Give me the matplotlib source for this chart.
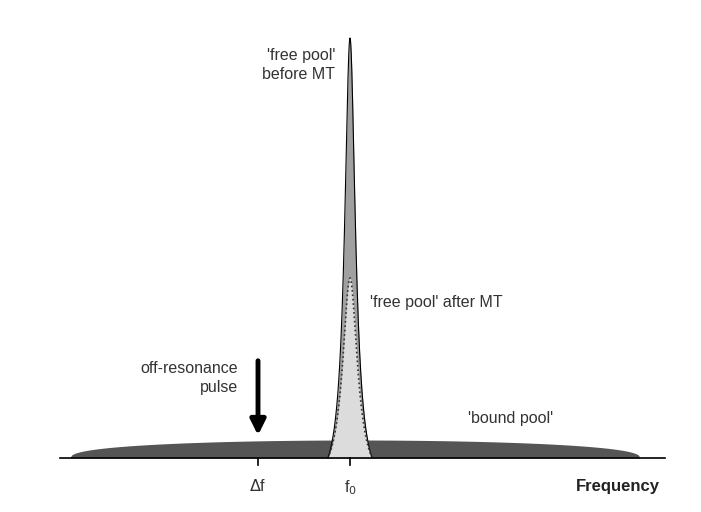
import numpy as np
import matplotlib.pyplot as plt

# schematic in pixel-like units: f0 at 0, heights above baseline
f0 = 0.0
delta_f = -92.0
free_height = 420.0
free_width = 6.5
free_after_height = 180.0
free_after_width = 9.0
bound_height = 18.0
bound_halfwidth = 285.0
bound_center = 5.0

fig = plt.figure(figsize=(7.01, 5.12), dpi=100)
ax = fig.add_axes([0, 0, 1, 1])
ax.set_xlim(-350, 351)
ax.set_ylim(-54, 458)
ax.axis('off')


def peak(x, h, w, edge=22.0):
    lor = 1.0 / (1.0 + (x / w) ** 2)
    lor_edge = 1.0 / (1.0 + (edge / w) ** 2)
    return h * np.clip((lor - lor_edge) / (1 - lor_edge), 0, None)


# bound pool
xb = np.linspace(bound_center - bound_halfwidth, bound_center + bound_halfwidth, 400)
yb = bound_height * np.clip(1 - ((xb - bound_center) / bound_halfwidth) ** 2, 0, 1) ** 0.4
ax.fill_between(xb, 0, yb, color='#555555', lw=0)

xf = np.linspace(-22, 22, 801)
# free pool before MT
yf = peak(xf, free_height, free_width)
ax.fill_between(xf, 0, yf, color='#a0a0a0', lw=0, zorder=2)
ax.plot(xf, yf, color='black', lw=0.8, zorder=4)

# free pool after MT
ya = peak(xf, free_after_height, free_after_width)
ax.fill_between(xf, 0, ya, color='#dcdcdc', lw=0, zorder=3)
ax.plot(xf, ya, color='#333333', lw=1.2, ls=':', zorder=4)

# axis
ax.plot([-290, 315], [0, 0], color='black', lw=1.2, zorder=5)
for x in (delta_f, f0):
    ax.plot([x, x], [0, -7], color='black', lw=1.2, zorder=5)

ax.annotate('', xy=(delta_f, 20), xytext=(delta_f, 100),
            arrowprops=dict(arrowstyle='-|>,head_width=0.45,head_length=0.9',
                            color='black', lw=3.5))

kw = dict(fontsize=11.5, color='#333333', family='Liberation Sans')
ax.text(-15, 393, "'free pool'\nbefore MT", ha='right', va='center', linespacing=1.3, **kw)
ax.text(20, 155, "'free pool' after MT", ha='left', va='center', **kw)
ax.text(-112, 80, "off-resonance\npulse", ha='right', va='center', multialignment='right',
        linespacing=1.3, **kw)
ax.text(118, 40, "'bound pool'", ha='left', va='center', **kw)
ax.text(delta_f, -28, r'$\Delta$f', ha='center', va='center', **kw)
ax.text(f0, -30, r'f$_0$', ha='center', va='center', **kw)
ax.text(310, -28, 'Frequency', ha='right', va='center', fontsize=12,
        fontweight='bold', color='#222222', family='Liberation Sans')

fig.savefig('out.png', dpi=100)
